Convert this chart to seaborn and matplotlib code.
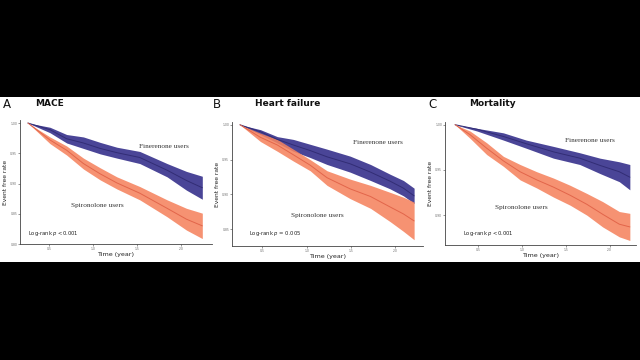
import matplotlib
matplotlib.use("agg")
import numpy as np
import pandas as pd
import seaborn as sns
import matplotlib.pyplot as plt
from matplotlib.patches import Rectangle

# ---- data (survival estimates with 95% CI) ----
# Panel A: MACE
time_a_fin = [0.26, 0.51, 0.70, 0.89, 1.08, 1.27, 1.53, 1.84, 2.06, 2.24]
fin_a_mid = [1.0, 0.989, 0.974, 0.967, 0.958, 0.951, 0.943, 0.922, 0.905, 0.893]
fin_a_lo = [1.0, 0.984, 0.967, 0.958, 0.949, 0.942, 0.933, 0.911, 0.889, 0.874]
fin_a_hi = [1.0, 0.993, 0.981, 0.977, 0.968, 0.960, 0.953, 0.933, 0.920, 0.912]
time_a_spi = [0.26, 0.51, 0.70, 0.89, 1.08, 1.27, 1.53, 1.84, 2.06, 2.24]
spi_a_mid = [1.0, 0.972, 0.955, 0.933, 0.916, 0.901, 0.884, 0.859, 0.841, 0.830]
spi_a_lo = [1.0, 0.966, 0.947, 0.924, 0.906, 0.891, 0.873, 0.845, 0.823, 0.809]
spi_a_hi = [1.0, 0.977, 0.962, 0.942, 0.926, 0.911, 0.895, 0.873, 0.859, 0.851]

# Panel B: Heart failure
time_b = [0.25, 0.48, 0.67, 0.85, 1.04, 1.23, 1.49, 1.72, 1.94, 2.09, 2.21]
fin_b_mid = [1.0, 0.990, 0.979, 0.971, 0.963, 0.954, 0.944, 0.932, 0.919, 0.909, 0.898]
fin_b_lo = [1.0, 0.986, 0.974, 0.962, 0.953, 0.943, 0.932, 0.920, 0.908, 0.898, 0.887]
fin_b_hi = [1.0, 0.993, 0.983, 0.979, 0.972, 0.965, 0.955, 0.943, 0.929, 0.920, 0.909]
spi_b_mid = [1.0, 0.982, 0.971, 0.957, 0.942, 0.924, 0.908, 0.897, 0.882, 0.872, 0.862]
spi_b_lo = [1.0, 0.976, 0.962, 0.948, 0.934, 0.913, 0.894, 0.880, 0.861, 0.847, 0.835]
spi_b_hi = [1.0, 0.988, 0.979, 0.965, 0.950, 0.934, 0.922, 0.913, 0.903, 0.896, 0.889]

# Panel C: Mortality
time_c_fin = [0.24, 0.49, 0.79, 1.05, 1.36, 1.66, 1.89, 2.11, 2.23]
fin_c_mid = [1.0, 0.995, 0.987, 0.979, 0.970, 0.963, 0.955, 0.948, 0.942]
fin_c_lo = [1.0, 0.993, 0.983, 0.974, 0.963, 0.956, 0.946, 0.937, 0.928]
fin_c_hi = [1.0, 0.996, 0.991, 0.983, 0.976, 0.969, 0.963, 0.959, 0.956]
time_c_spi = [0.24, 0.41, 0.60, 0.79, 0.98, 1.17, 1.36, 1.55, 1.74, 1.92, 2.11, 2.23]
spi_c_mid = [1.0, 0.989, 0.974, 0.960, 0.948, 0.939, 0.931, 0.922, 0.912, 0.901, 0.890, 0.887]
spi_c_lo = [1.0, 0.985, 0.967, 0.954, 0.939, 0.930, 0.920, 0.911, 0.900, 0.887, 0.876, 0.872]
spi_c_hi = [1.0, 0.993, 0.980, 0.965, 0.956, 0.948, 0.941, 0.933, 0.924, 0.915, 0.904, 0.902]

x_ticks = [0.5, 1.0, 1.5, 2.0]
y_ticks_a = [0.80, 0.85, 0.90, 0.95, 1.00]
y_ticks_b = [0.85, 0.90, 0.95, 1.00]
y_ticks_c = [0.90, 0.95, 1.00]

panel_letters = ["A", "B", "C"]
panel_titles = ["MACE", "Heart failure", "Mortality"]
pvalues = ["<0.001", "= 0.005", "<0.001"]

NAVY = "#4a4597"
NAVY_LINE = "#322d75"
SALMON = "#f5835f"
SALMON_LINE = "#e2654a"

W, H = 640, 360


def px(x, y):
    return x / W, 1 - y / H


sns.set_theme(style="white")
plt.rcParams['font.family'] = ['DejaVu Sans']

fig = plt.figure(figsize=(6.4, 3.6), dpi=100, facecolor="black")
# white band of the letterboxed image
fig.patches.append(Rectangle((0, 1 - 262 / H), 1, 165 / H, transform=fig.transFigure,
                             facecolor="white", edgecolor="none", zorder=-5))

# axes boxes in pixels: left, right, top, bottom
boxes = [(20, 212, 120, 244), (232, 423, 122, 246), (445, 636, 122, 245)]
xlims = [(0.17, 2.35), (0.16, 2.31), (0.125, 2.3)]
ylims = [(0.80, 1.005), (0.826, 1.004), (0.867, 1.003)]
yticks = [y_ticks_a, y_ticks_b, y_ticks_c]

series = [
    (time_a_fin, fin_a_mid, fin_a_lo, fin_a_hi, time_a_spi, spi_a_mid, spi_a_lo, spi_a_hi),
    (time_b, fin_b_mid, fin_b_lo, fin_b_hi, time_b, spi_b_mid, spi_b_lo, spi_b_hi),
    (time_c_fin, fin_c_mid, fin_c_lo, fin_c_hi, time_c_spi, spi_c_mid, spi_c_lo, spi_c_hi),
]

for i, (l, r, t, b) in enumerate(boxes):
    ax = fig.add_axes([l / W, 1 - b / H, (r - l) / W, (b - t) / H])
    ax.set_zorder(2)
    ax.set_facecolor("none")
    tf, fm, flo, fhi, ts, sm, slo, shi = series[i]

    ax.fill_between(tf, flo, fhi, color=NAVY, linewidth=0, zorder=2)
    ax.fill_between(ts, slo, shi, color=SALMON, alpha=0.88, linewidth=0, zorder=3)
    df_f = pd.DataFrame({"t": tf, "s": fm})
    df_s = pd.DataFrame({"t": ts, "s": sm})
    sns.lineplot(data=df_f, x="t", y="s", ax=ax, color=NAVY_LINE, linewidth=0.7, zorder=4)
    sns.lineplot(data=df_s, x="t", y="s", ax=ax, color=SALMON_LINE, linewidth=0.7, zorder=5)

    ax.set_xlim(*xlims[i])
    ax.set_ylim(*ylims[i])
    ax.set_xticks(x_ticks)
    ax.set_xticklabels([f"{v:.1f}" for v in x_ticks])
    ax.set_yticks(yticks[i])
    ax.set_yticklabels([f"{v:.2f}" for v in yticks[i]])
    ax.tick_params(axis="both", labelsize=2.2, labelcolor="#666666", length=1.2,
                   width=0.4, color="#444444", pad=0.8, left=True, bottom=True)
    for s in ["top", "right"]:
        ax.spines[s].set_visible(False)
    for s in ["left", "bottom"]:
        ax.spines[s].set_color("#444444")
        ax.spines[s].set_linewidth(0.6)
    ax.set_xlabel("Time (year)", fontsize=4.6, color="#222222", labelpad=1.2)
    ax.set_ylabel("Event free rate", fontsize=4.3, color="#222222", labelpad=1.5)

# panel letters and titles
letter_x = [3, 213, 428]
title_x = [35, 255, 469]
for i in range(3):
    fig.text(*px(letter_x[i], 104), panel_letters[i], fontsize=8.5, color="#111111",
             ha="left", va="center")
    fig.text(*px(title_x[i], 104), panel_titles[i], fontsize=6.5, fontweight="bold",
             color="#111111", ha="left", va="center")

# in-plot annotations
fin_pos = [(164, 146), (378, 143), (590, 141)]
spi_pos = [(97, 206), (317, 215), (521, 208)]
p_pos = [(28, 234), (249, 234), (463, 234)]
for i in range(3):
    fig.text(*px(*fin_pos[i]), "Finerenone users", family="Liberation Serif", fontsize=5.2,
             color="#333333", ha="center", va="center")
    fig.text(*px(*spi_pos[i]), "Spironolone users", family="Liberation Serif", fontsize=5.2,
             color="#333333", ha="center", va="center")
    fig.text(*px(*p_pos[i]), "Log-rank $\\it{p}$ " + pvalues[i], fontsize=3.8,
             color="#222222", ha="left", va="center")

fig.savefig("out.png", dpi=100, facecolor="black")
plt.close(fig)
